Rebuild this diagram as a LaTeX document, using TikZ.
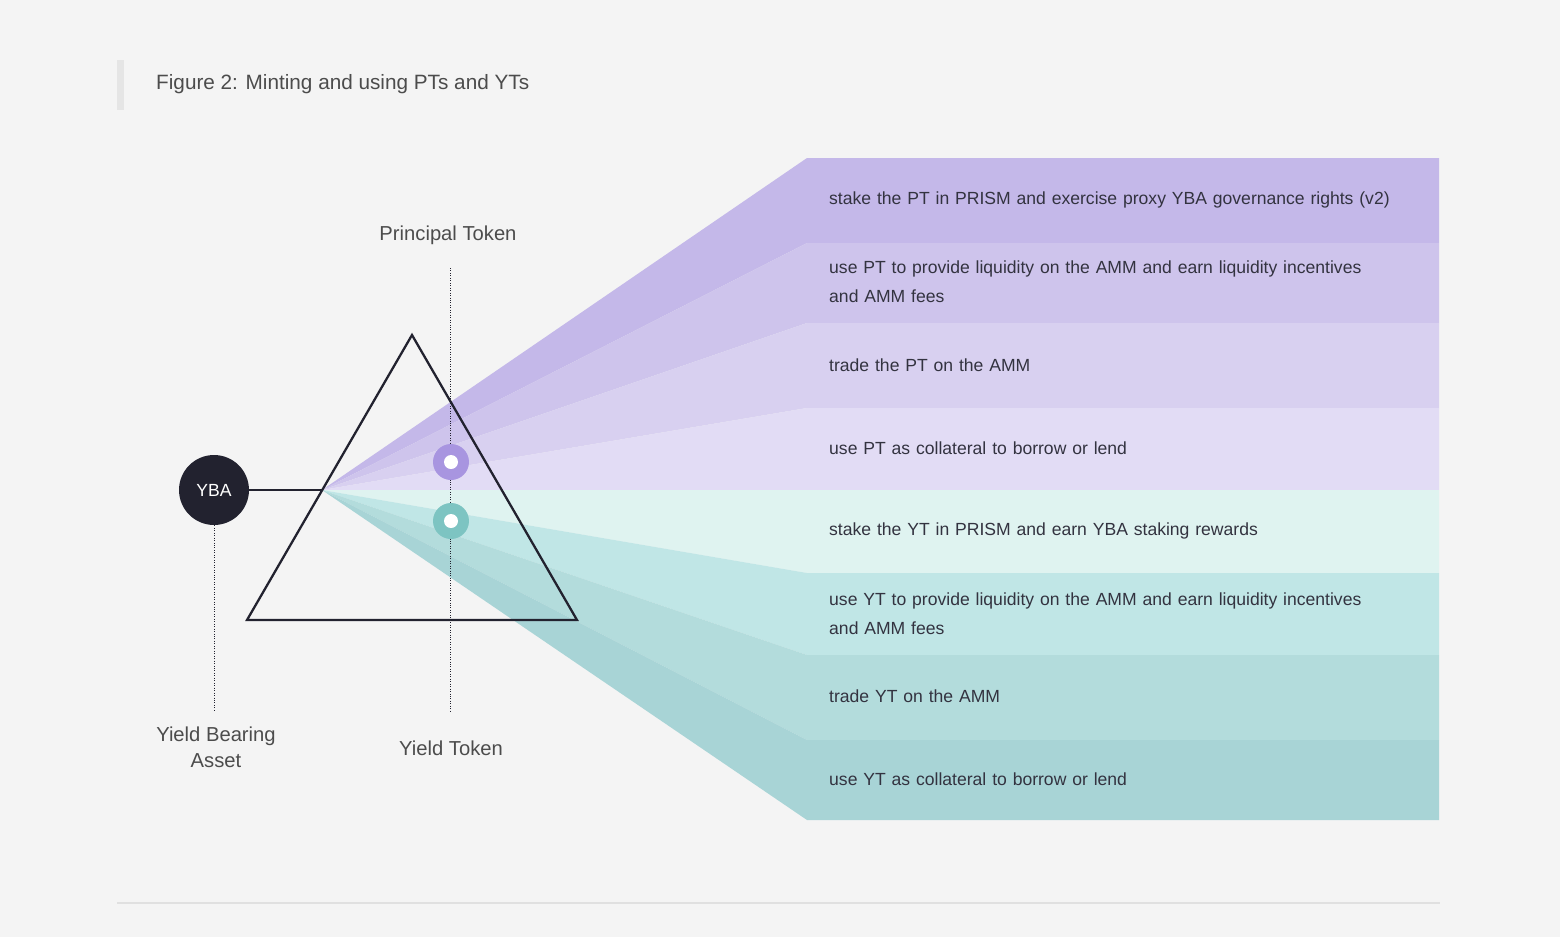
\documentclass[tikz,border=0pt]{standalone}
\usepackage{fontspec}
\setmainfont{Liberation Sans}
\usetikzlibrary{positioning}
\definecolor{bg}{HTML}{F4F4F4}
\definecolor{ink}{HTML}{22222F}
\definecolor{txt}{HTML}{333340}
\definecolor{pA}{HTML}{C4B8E9}
\definecolor{pB}{HTML}{CEC4EC}
\definecolor{pC}{HTML}{D8D0F0}
\definecolor{pD}{HTML}{E2DCF5}
\definecolor{tA}{HTML}{DFF3F0}
\definecolor{tB}{HTML}{C0E6E6}
\definecolor{tC}{HTML}{B3DCDC}
\definecolor{tD}{HTML}{A8D4D6}
\definecolor{ptok}{HTML}{A895E0}
\definecolor{ytok}{HTML}{7DC4C2}
\begin{document}
\begin{tikzpicture}[x=0.02cm, y=-0.02cm,
every node/.style = {font=\fontsize{10}{16.5}\selectfont, text=txt},
      item/.style = {anchor=west, align=left, text width=12.6cm},
       lbl/.style = {font=\fontsize{11.5}{15}\selectfont, text=black!70, align=center},
      tokn/.style = {circle, minimum size=0.72cm, inner sep=0pt},
      hole/.style = {circle, fill=white, minimum size=0.28cm, inner sep=0pt},
     guide/.style = {densely dotted, ink, thin}
                    ]
\fill[bg] (0,0) rectangle (1560,937);
\fill[black!10] (117,60) rectangle (124,110);
\node (title)[anchor=west, font=\fontsize{11.8}{14}\selectfont, text=black!70] at (150,84) {Figure 2: Minting and using PTs and YTs};
\draw[black!12, line width=1.2pt] (117,903) -- (1440,903);
% beams and bands
\coordinate (apex) at (322,490);
\foreach \ya/\yb/\c in {158/243/pA, 243/323/pB, 323/408/pC, 408/490/pD,
                        490/573/tA, 573/655/tB, 655/740/tC, 740/820/tD}
  \fill[\c] (apex) -- (807,\ya) -- (1439,\ya) -- (1439,\yb) -- (807,\yb) -- cycle;
\node (b1)[item] at (823,200) {stake the PT in PRISM and exercise proxy YBA governance rights (v2)};
\node (b2)[item] at (823,282) {use PT to provide liquidity on the AMM and earn liquidity incentives\\and AMM fees};
\node (b3)[item] at (823,365) {trade the PT on the AMM};
\node (b4)[item] at (823,448) {use PT as collateral to borrow or lend};
\node (b5)[item] at (823,531) {stake the YT in PRISM and earn YBA staking rewards};
\node (b6)[item] at (823,614) {use YT to provide liquidity on the AMM and earn liquidity incentives\\and AMM fees};
\node (b7)[item] at (823,696) {trade YT on the AMM};
\node (b8)[item] at (823,779) {use YT as collateral to borrow or lend};
% prism
\draw[ink, line width=1.3pt, line join=miter] (412,335) -- (577,620) -- (247,620) -- cycle;
\coordinate (ptTop) at (450,268);
\coordinate (ptBot) at (450,712);
\draw[guide] (ptTop) -- (ptBot);
\node (yba)[circle, fill=ink, minimum size=1.4cm, inner sep=0pt, text=white] at (214,490) {YBA};
\draw[ink, line width=1.3pt] (yba) -- (apex);
\coordinate (ybaBot) at (214,712);
\draw[guide] (yba) -- (ybaBot);
\node (pt)[tokn, fill=ptok] at (451,462) {};
\node (pth)[hole] at (pt) {};
\node (yt)[tokn, fill=ytok] at (451,521) {};
\node (yth)[hole] at (yt) {};
\node (lpt)[lbl] at (448,235) {Principal Token};
\node (lyt)[lbl] at (451,748) {Yield Token};
\node (lyba)[lbl] at (216,747) {Yield Bearing\\Asset};
\end{tikzpicture}
\end{document}
